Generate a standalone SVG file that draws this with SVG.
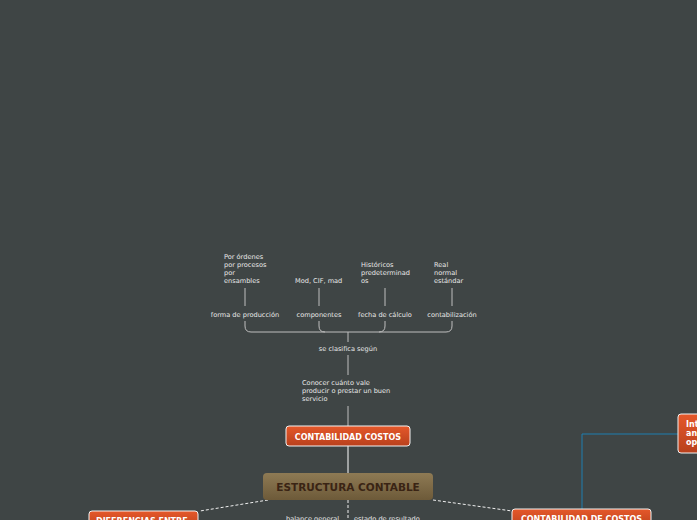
<svg xmlns="http://www.w3.org/2000/svg" width="697" height="520" viewBox="0 0 697 520">
<defs>
<linearGradient id="og" x1="0" y1="0" x2="0" y2="1"><stop offset="0" stop-color="#e5582a"/><stop offset="1" stop-color="#b8401c"/></linearGradient>
<linearGradient id="bg" x1="0" y1="0" x2="0" y2="1"><stop offset="0" stop-color="#8e7a54"/><stop offset="1" stop-color="#6d5a39"/></linearGradient>
<style>
.t{font-family:"DejaVu Sans",sans-serif;font-size:6.6px;fill:#e8e8e8}
.c{text-anchor:middle}
.ln{stroke:#bfbfbf;stroke-width:1;fill:none}
.ob{fill:url(#og);stroke:#f2f2f2;stroke-width:1}
.ot{font-family:"DejaVu Sans",sans-serif;font-size:8px;font-weight:bold;fill:#fff}
.d{stroke:#f0f0f0;stroke-width:1;stroke-dasharray:3,2;fill:none}
</style>
</defs>
<rect width="697" height="520" fill="#3f4545"/>
<g id="connectors">
<path class="ln" d="M245 288V306M319 288V306M385 288V306M452 288V306"/>
<path class="ln" d="M245 321V326Q245 332 251 332H446Q452 332 452 326V321M319 321V326Q319 332 325 332M385 321V326Q385 332 379 332"/>
<path class="ln" d="M348 332V342M348 355V375M348 406V426"/>
<path stroke="#fff" stroke-width="1" d="M348 446V473"/>
<path class="d" d="M268 500L200 511M348 500V520M433 500L512 511"/>
<path stroke="#1f7fb0" stroke-width="1" fill="none" d="M582 509V434H678"/>
</g>
<g id="n-ordenes"><text class="t" x="224" y="259">Por órdenes</text><text class="t" x="224" y="267">por procesos</text><text class="t" x="224" y="275">por</text><text class="t" x="224" y="283">ensambles</text></g>
<g id="n-mod"><text class="t" x="295" y="283">Mod, CIF, mad</text></g>
<g id="n-hist"><text class="t" x="361" y="267">Históricos</text><text class="t" x="361" y="275">predeterminad</text><text class="t" x="361" y="283">os</text></g>
<g id="n-real"><text class="t" x="434" y="267">Real</text><text class="t" x="434" y="275">normal</text><text class="t" x="434" y="283">estándar</text></g>
<g id="n-forma"><text class="t c" x="245" y="317">forma de producción</text></g>
<g id="n-comp"><text class="t c" x="319" y="317">componentes</text></g>
<g id="n-fecha"><text class="t c" x="385" y="317">fecha de cálculo</text></g>
<g id="n-contab"><text class="t c" x="452" y="317">contabilización</text></g>
<g id="n-clasifica"><text class="t c" x="348" y="351">se clasifica según</text></g>
<g id="n-conocer"><text class="t" x="302" y="385">Conocer cuánto vale</text><text class="t" x="302" y="393">producir o prestar un buen</text><text class="t" x="302" y="401">servicio</text></g>
<g id="n-costos"><rect class="ob" x="286" y="426" width="124" height="20" rx="3"/><text class="ot c" x="348" y="439.5">CONTABILIDAD COSTOS</text></g>
<g id="n-estructura"><rect x="263" y="473" width="170" height="27" rx="4" fill="url(#bg)"/><text class="c" x="348" y="491" font-family="DejaVu Sans,sans-serif" font-size="10.5" font-weight="bold" fill="#3a2414">ESTRUCTURA CONTABLE</text></g>
<g id="n-diferencias"><rect class="ob" x="89" y="511" width="109" height="20" rx="3"/><text class="ot" x="96" y="523.5">DIFERENCIAS ENTRE</text></g>
<g id="n-balance"><text class="t" x="286" y="521">balance general</text></g>
<g id="n-estado"><text class="t" x="354" y="521">estado de resultado</text></g>
<g id="n-contcostos"><rect class="ob" x="512" y="509" width="139" height="20" rx="3"/><text class="ot c" x="581.5" y="521.5">CONTABILIDAD DE COSTOS</text></g>
<g id="n-int"><rect class="ob" x="678" y="414" width="40" height="39" rx="3"/><text class="ot" x="686" y="427">Int</text><text class="ot" x="686" y="436">an</text><text class="ot" x="686" y="445">op</text></g>
</svg>
